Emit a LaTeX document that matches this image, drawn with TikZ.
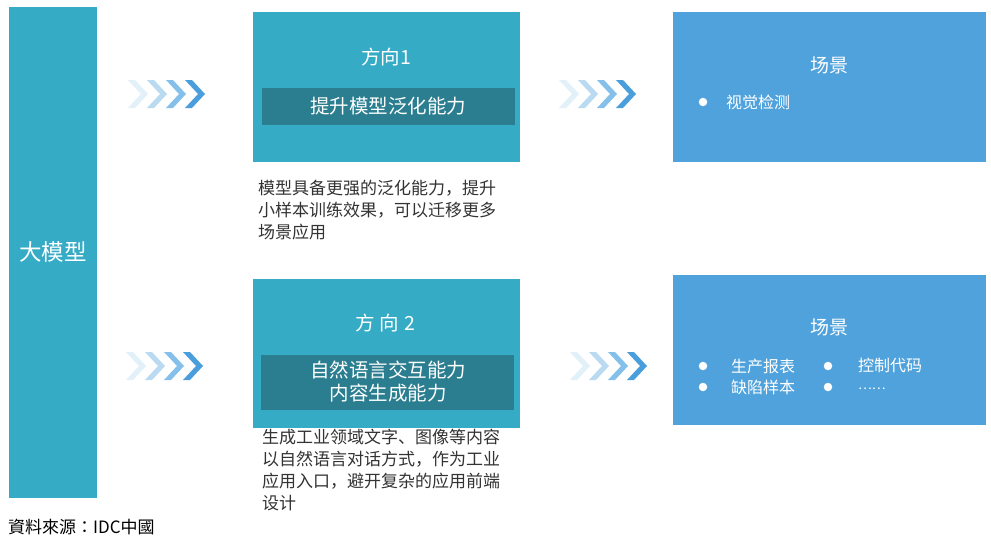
\documentclass[tikz,border=0pt]{standalone}
\usepackage{fontspec}
\setmainfont{Noto Sans CJK SC}
\newfontfamily\tcfont{Noto Sans CJK TC}
\definecolor{teal1}{HTML}{35ABC5}
\definecolor{tealdark}{HTML}{2A7E90}
\definecolor{scene}{HTML}{50A2DC}
\definecolor{desc}{HTML}{333333}
\definecolor{ch1}{HTML}{E2F0F9}
\definecolor{ch2}{HTML}{B9DAF1}
\definecolor{ch3}{HTML}{85C0EA}
\definecolor{ch4}{HTML}{4A9EDC}
\begin{document}
\begin{tikzpicture}[x=1pt,y=-1pt,
  box/.style={fill=teal1,draw=none},
  innerbar/.style={fill=tealdark,draw=none},
  scenebox/.style={fill=scene,draw=none},
  wtxt/.style={text=white,inner sep=0pt,font=\fontsize{19.5}{23}\selectfont},
  ttl/.style={text=white,inner sep=0pt,font=\fontsize{19.5}{23}\selectfont},
  itemtxt/.style={text=white,inner sep=0pt,anchor=west,font=\fontsize{16}{19}\selectfont},
  desctxt/.style={text=desc,inner sep=0pt,anchor=north west,align=left,font=\fontsize{17}{22}\selectfont},
  bul/.style={circle,fill=white,inner sep=0pt,minimum size=8.5pt},
  chev/.pic={
    \foreach \i/\c in {0/ch1,1/ch2,2/ch3,3/ch4}
      \fill[\c] (\i*19,-14) -- (\i*19+7,-14) -- (\i*19+20,0) -- (\i*19+7,14) -- (\i*19,14) -- (\i*19+13,0) -- cycle;
  }]
\useasboundingbox (0,0) rectangle (991,542);
\fill[white] (0,0) rectangle (991,542);

% left bar
\fill[box] (9,7) rectangle (97,498);
\node[wtxt,font=\fontsize{22.5}{26}\selectfont] (big) at (53,252) {大模型};

% direction 1
\fill[box] (253,12) rectangle (520,162);
\node[ttl] (d1t) at (386,57) {方向1};
\fill[innerbar] (262,88) rectangle (515,125);
\node[wtxt] (d1b) at (388,106) {提升模型泛化能力};
\node[desctxt] (d1d) at (258,180) {模型具备更强的泛化能力，提升\\小样本训练效果，可以迁移更多\\场景应用};

% direction 2
\fill[box] (253,279) rectangle (520,428);
\node[ttl] (d2t) at (385,323) {方\hspace{5pt}向\hspace{5pt}2};
\fill[innerbar] (261,355) rectangle (514,410);
\node[wtxt,align=center,font=\fontsize{19.5}{23}\selectfont] (d2b) at (388,382) {自然语言交互能力\\内容生成能力};
\node[desctxt] (d2d) at (262,429) {生成工业领域文字、图像等内容\\以自然语言对话方式，作为工业\\应用入口，避开复杂的应用前端\\设计};

% scene 1
\fill[scenebox] (673,12) rectangle (986,162);
\node[ttl,font=\fontsize{19}{22}\selectfont] (s1t) at (829,65) {场景};
\node[bul] (b1) at (703,102) {};
\node[itemtxt] (s1a) at (726,102) {视觉检测};

% scene 2
\fill[scenebox] (673,275) rectangle (986,425);
\node[ttl,font=\fontsize{19}{22}\selectfont] (s2t) at (829,327) {场景};
\node[bul] (b2) at (703,366) {};
\node[bul] (b3) at (703,387) {};
\node[bul] (b4) at (828,366) {};
\node[bul] (b5) at (828,387) {};
\node[itemtxt] (s2a) at (731,366) {生产报表};
\node[itemtxt] (s2b) at (731,387) {缺陷样本};
\node[itemtxt] (s2c) at (858,365) {控制代码};
\node[itemtxt,font=\fontsize{13}{15}\selectfont] (s2d) at (858,389) {……};

% chevrons
\pic at (128,94) {chev};
\pic at (559,94) {chev};
\pic at (126,366) {chev};
\pic at (570,366) {chev};

% source
\node[anchor=west,inner sep=0pt,text=black,font=\tcfont\fontsize{17}{19}\selectfont] (src) at (8,527) {資料來源：IDC中國};
\end{tikzpicture}
\end{document}
